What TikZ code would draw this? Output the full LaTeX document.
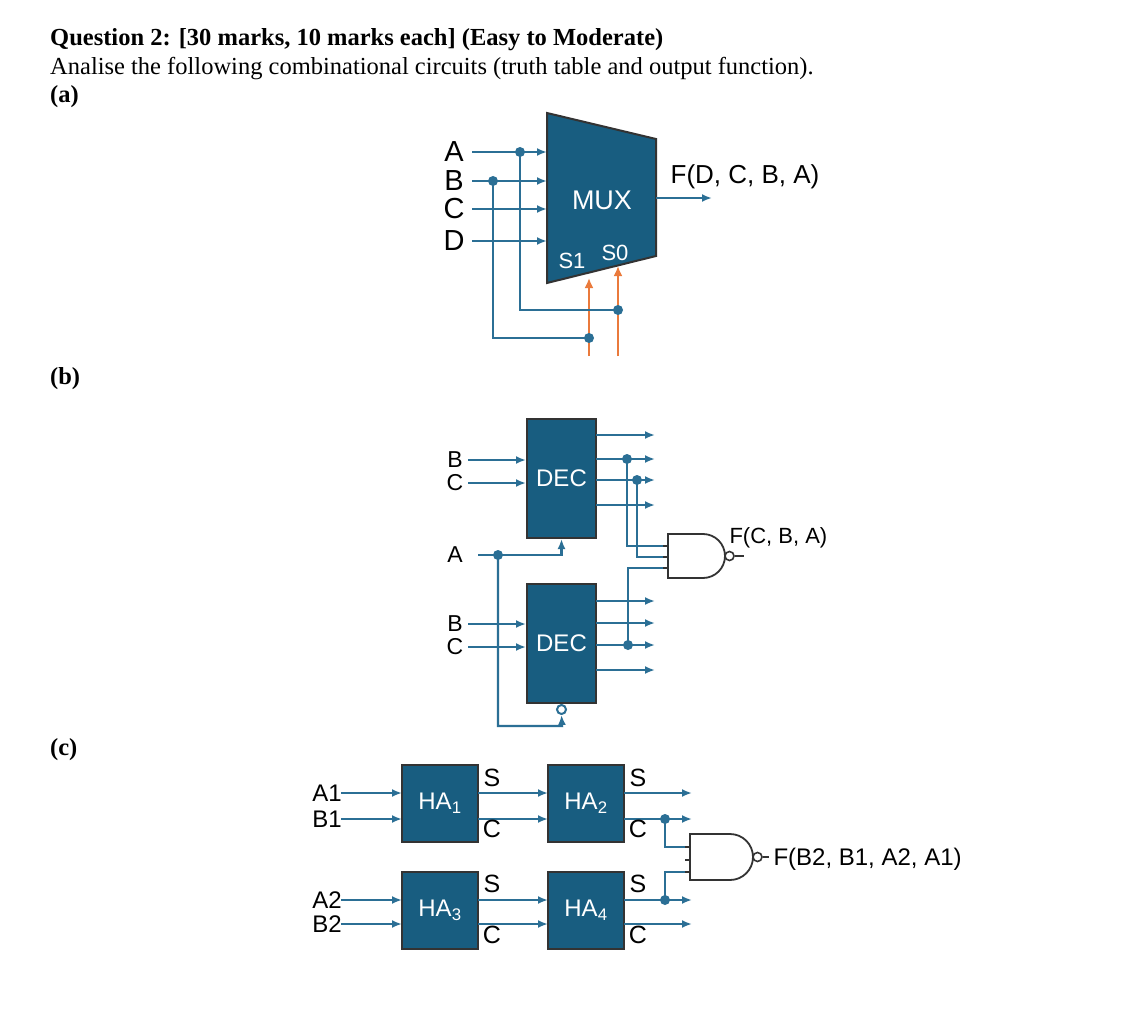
\documentclass[tikz,border=0pt]{standalone}
\usepackage{fontspec}
\setmainfont{Liberation Serif}
\setsansfont{Liberation Sans}
\usetikzlibrary{arrows.meta}
\definecolor{boxblue}{HTML}{185D80}
\definecolor{wire}{HTML}{2B6F95}
\definecolor{org}{HTML}{EA7A3C}
\begin{document}
\begin{tikzpicture}[x=1pt,y=-1pt,
  w/.style={draw=wire,line width=2.4pt},
  wa/.style={w,-{Latex[length=10pt,width=8pt]}},
  oa/.style={draw=org,line width=2.6pt,-{Latex[length=10pt,width=9pt]}},
  dotc/.style={circle,fill=wire,inner sep=0pt,minimum size=10pt},
  blk/.style={draw=black!80,line width=2pt,fill=boxblue,text=white,font=\sffamily\fontsize{24}{24}\selectfont,inner sep=0pt},
  lbl/.style={font=\sffamily\fontsize{29}{29}\selectfont,inner sep=0pt},
  slbl/.style={font=\sffamily\fontsize{23}{23}\selectfont,inner sep=0pt},
  hd/.style={font=\fontsize{24.5}{24.5}\selectfont,anchor=base west,inner sep=0pt},
  gate/.style={draw=black!80,line width=1.8pt,fill=white},
  gl/.style={black!80,line width=1.8pt}]
\useasboundingbox[fill=white] (0,0) rectangle (1122,1014);
% header
\node[hd] (h1) at (50,46) {\bfseries Question 2: [30 marks, 10 marks each] (Easy to Moderate)};
\node[hd] (h2) at (50,75) {Analise the following combinational circuits (truth table and output function).};
\node[hd] (ha) at (50,103) {\bfseries (a)};
\node[hd] (hb) at (50,384) {\bfseries (b)};
\node[hd] (hc) at (50,755) {\bfseries (c)};
% ---------- (a) ----------
\draw[blk] (547,113) -- (656,139) -- (656,256) -- (547,283) -- cycle;
\node[text=white,font=\sffamily\fontsize{27}{27}\selectfont] (mux) at (602,200) {MUX};
\node[text=white,font=\sffamily\fontsize{22}{22}\selectfont] (s1) at (572,261) {S1};
\node[text=white,font=\sffamily\fontsize{22}{22}\selectfont] (s0) at (615,253) {S0};
\foreach \n/\y in {A/152,B/181,C/209,D/241}{
  \node[lbl] (l\n) at (454,\y) {\n};
  \coordinate (i\n) at (472,\y);
  \coordinate (m\n) at (547,\y);
  \draw[wa] (i\n) -- (m\n);
}
\node[dotc] (dA) at (520,152) {};
\node[dotc] (dB) at (493,181) {};
\coordinate (os1) at (589,356); \coordinate (ts1) at (589,278);
\coordinate (os0) at (618,356); \coordinate (ts0) at (618,266);
\draw[oa] (os1) -- (ts1);
\draw[oa] (os0) -- (ts0);
\node[dotc] (j0) at (618,310) {};
\node[dotc] (j1) at (589,338) {};
\draw[w] (dA.center) |- (j0.center);
\draw[w] (dB.center) |- (j1.center);
\coordinate (mo) at (656,198); \coordinate (fo) at (712,198);
\draw[wa] (mo) -- (fo);
\node[font=\sffamily\fontsize{26}{26}\selectfont] (fa) at (745,177) {F(D, C, B, A)};
% ---------- (b) ----------
\node[blk,minimum width=69pt,minimum height=119pt] (dec1) at (561.5,478.5) {DEC};
\node[blk,minimum width=69pt,minimum height=119pt] (dec2) at (561.5,643.5) {DEC};
\foreach \n/\y/\k in {B/460/1,C/483/1,B/624/2,C/647/2}{
  \node[slbl] (b\n\k) at (455,\y) {\n};
  \draw[wa] (468,\y) -- (dec\k.west |- 0,\y);
}
\foreach \y in {435,459,480,505,601,623,645,670}{
  \draw[wa] (596,\y) -- (655,\y);
}
\node[dotc] (e1) at (627,459) {};
\node[dotc] (e2) at (637,480) {};
\node[dotc] (e3) at (628,645) {};
% gate
\draw[gate] (668,534) -- (703,534) arc[start angle=-90,end angle=90,radius=22] -- (668,578) -- cycle;
\node[circle,draw=black!80,line width=1.6pt,fill=white,inner sep=0pt,minimum size=9pt] (nb) at (729.5,556) {};
\draw[gl] (nb.east) -- (744,556);
\foreach \y in {546,557,568}{\draw[gl] (663,\y) -- (668,\y);}
\draw[w] (e1.center) |- (663,546);
\draw[w] (e2.center) |- (663,557);
\draw[w] (e3.center) |- (663,568);
\node[font=\sffamily\fontsize{22}{22}\selectfont,anchor=west] (fb) at (726,538) {F(C, B, A)};
\node[slbl] (bA) at (455,555) {A};
\node[dotc] (da) at (498,555) {};
\draw[wa] (478,555) -| (dec1.south);
\node[circle,draw=wire,line width=2pt,fill=white,inner sep=0pt,minimum size=9pt,anchor=north] (eb) at (dec2.south) {};
\draw[wa] (da.center) |- (562,726) -- (eb.south);
% ---------- (c) ----------
\node[blk,minimum width=76pt,minimum height=77pt] (ha1) at (440,803.5) {HA\textsubscript{1}};
\node[blk,minimum width=76pt,minimum height=77pt] (ha2) at (586,803.5) {HA\textsubscript{2}};
\node[blk,minimum width=76pt,minimum height=77pt] (ha3) at (440,910) {HA\textsubscript{3}};
\node[blk,minimum width=76pt,minimum height=77pt] (ha4) at (586,910) {HA\textsubscript{4}};
\foreach \n/\y in {A1/793,B1/819,A2/900,B2/924}{
  \node[lbl,anchor=east,font=\sffamily\fontsize{24}{24}\selectfont] (c\n) at (342,\y) {\n};
  \draw[wa] (341,\y) -- (402,\y);
}
\foreach \y in {793,819,900,924}{
  \draw[wa] (478,\y) -- (548,\y);
  \draw[wa] (624,\y) -- (692,\y);
}
\foreach \x in {492,638}{
  \foreach \ys/\yc in {778/829,884/935}{
    \node[slbl,font=\sffamily\fontsize{25}{25}\selectfont] at (\x,\ys) {S};
    \node[slbl,font=\sffamily\fontsize{25}{25}\selectfont] at (\x,\yc) {C};
  }
}
\node[dotc] (g1) at (665,819) {};
\node[dotc] (g2) at (665,900) {};
\draw[gate] (690,834) -- (730,834) arc[start angle=-90,end angle=90,radius=23] -- (690,880) -- cycle;
\node[circle,draw=black!80,line width=1.6pt,fill=white,inner sep=0pt,minimum size=9pt] (nc) at (757.5,857) {};
\draw[gl] (nc.east) -- (769,857);
\foreach \y in {847,860,872}{\draw[gl] (685,\y) -- (690,\y);}
\draw[w] (g1.center) |- (685,847);
\draw[w] (g2.center) |- (685,872);
\node[font=\sffamily\fontsize{24}{24}\selectfont,anchor=west] (fc) at (770,859) {F(B2, B1, A2, A1)};
\end{tikzpicture}
\end{document}
